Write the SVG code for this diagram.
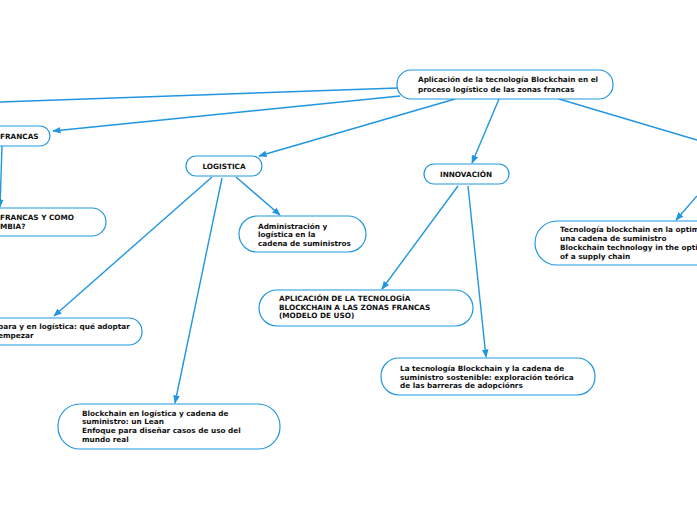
<svg xmlns="http://www.w3.org/2000/svg" width="697" height="520" viewBox="0 0 697 520">
<style>
.n{fill:#fff;stroke:#2196e0;stroke-width:1.2}
.t{font-family:"DejaVu Sans",Verdana,sans-serif;font-weight:bold;font-size:7.3px;fill:#111}
.c{fill:none;stroke:#2196e0;stroke-width:1.4}
</style>
<defs><marker id="a" viewBox="0 0 10 10" refX="9" refY="5" markerWidth="6" markerHeight="6" orient="auto"><path d="M0,1 L10,5 L0,9 z" fill="#2196e0"/></marker></defs>
<rect width="697" height="520" fill="#fff"/>
<g id="connectors">
<line class="c" x1="398" y1="88" x2="0" y2="102"/>
<line class="c" x1="400" y1="96" x2="53" y2="131" marker-end="url(#a)"/>
<line class="c" x1="455" y1="99" x2="259" y2="156" marker-end="url(#a)"/>
<line class="c" x1="499" y1="99" x2="472" y2="163" marker-end="url(#a)"/>
<line class="c" x1="559" y1="99" x2="697" y2="140"/>
<line class="c" x1="697" y1="196" x2="676" y2="220" marker-end="url(#a)"/>
<line class="c" x1="2" y1="146" x2="0" y2="207" marker-end="url(#a)"/>
<line class="c" x1="212" y1="177" x2="54" y2="316" marker-end="url(#a)"/>
<line class="c" x1="222" y1="178" x2="175" y2="403" marker-end="url(#a)"/>
<line class="c" x1="236" y1="177" x2="280" y2="215" marker-end="url(#a)"/>
<line class="c" x1="458" y1="186" x2="382" y2="289" marker-end="url(#a)"/>
<line class="c" x1="468" y1="186" x2="486" y2="357" marker-end="url(#a)"/>
</g>
<g id="root"><rect class="n" x="397" y="70" width="216" height="29" rx="14"/><text class="t" x="418" y="82">Aplicación de la tecnología Blockchain en el</text><text class="t" x="418" y="92">proceso logístico de las zonas francas</text></g>
<g id="francas"><rect class="n" x="-30" y="126" width="80" height="20" rx="10"/><text class="t" x="0" y="139">FRANCAS</text></g>
<g id="pregunta"><rect class="n" x="-30" y="208" width="136" height="28" rx="14"/><text class="t" x="0" y="220">FRANCAS Y COMO</text><text class="t" x="0" y="229">MBIA?</text></g>
<g id="logistica"><rect class="n" x="186" y="156" width="76" height="20" rx="10"/><text class="t" x="224" y="169" text-anchor="middle">LOGISTICA</text></g>
<g id="admin"><rect class="n" x="239" y="216" width="127" height="36" rx="18"/><text class="t" x="258" y="229">Administración y</text><text class="t" x="258" y="237"> logística en la</text><text class="t" x="258" y="246">cadena de suministros</text></g>
<g id="para"><rect class="n" x="-30" y="318" width="172" height="27" rx="13"/><text class="t" x="-2" y="329">para y en logística: qué adoptar</text><text class="t" x="-2" y="338">empezar</text></g>
<g id="lean"><rect class="n" x="58" y="404" width="222" height="45" rx="22"/><text class="t" x="82" y="416">Blockchain en logística y cadena de</text><text class="t" x="82" y="424">suministro: un Lean</text><text class="t" x="82" y="433">Enfoque para diseñar casos de uso del</text><text class="t" x="82" y="442">mundo real</text></g>
<g id="innovacion"><rect class="n" x="424" y="164" width="85" height="20" rx="10"/><text class="t" x="466" y="177" text-anchor="middle">INNOVACIÓN</text></g>
<g id="aplicacion"><rect class="n" x="259" y="290" width="214" height="36" rx="18"/><text class="t" x="279" y="301">APLICACIÓN DE LA TECNOLOGÍA</text><text class="t" x="279" y="310">BLOCKCHAIN A LAS ZONAS FRANCAS</text><text class="t" x="279" y="318">(MODELO DE USO)</text></g>
<g id="sostenible"><rect class="n" x="381" y="358" width="214" height="37" rx="18"/><text class="t" x="400" y="371">La tecnología Blockchain y la cadena de</text><text class="t" x="400" y="380">suministro sostenible: exploración teórica</text><text class="t" x="400" y="388">de las barreras de adopciónrs</text></g>
<g id="optimizacion"><rect class="n" x="535" y="221" width="200" height="44" rx="22"/><text class="t" x="560" y="232">Tecnología blockchain en la optimización de</text><text class="t" x="560" y="241">una cadena de suministro</text><text class="t" x="560" y="250">Blockchain technology in the optimization</text><text class="t" x="560" y="259">of a supply chain</text></g>
</svg>
